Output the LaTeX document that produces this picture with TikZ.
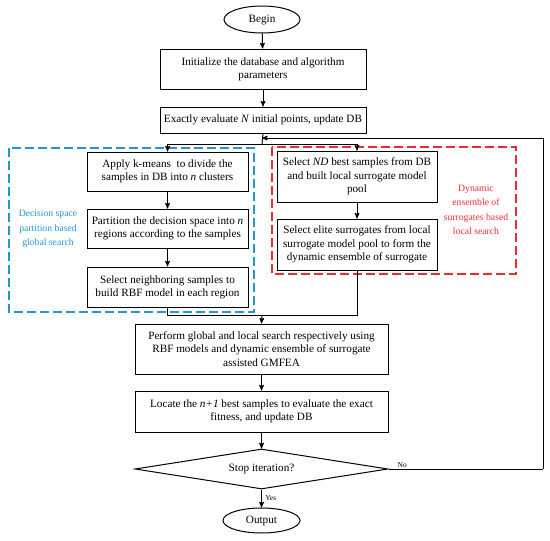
\documentclass[tikz,border=0pt]{standalone}
\usepackage{fontspec}
\setmainfont{Liberation Serif}
\usetikzlibrary{arrows,shapes}
\definecolor{dsblue}{RGB}{35,150,205}
\definecolor{dered}{RGB}{235,45,50}
\tikzstyle{stepbox}=[rectangle,draw,line width=1pt,align=center,inner sep=2pt,font=\fontsize{11.2}{13.3}\selectfont]
\tikzstyle{terminal}=[ellipse,draw,line width=1pt,inner sep=0pt,font=\fontsize{11.2}{13.3}\selectfont]
\tikzstyle{decide}=[diamond,draw,line width=1pt,aspect=6,inner sep=0pt,minimum width=253pt,minimum height=40pt,font=\fontsize{11.2}{13.3}\selectfont]
\tikzstyle{frame}=[line width=1.4pt,dash pattern=on 9pt off 4pt]
\tikzstyle{note}=[align=center,font=\fontsize{9.7}{14.5}\selectfont]

\begin{document}
\begin{tikzpicture}[->,>=stealth',x=1pt,y=1pt,line width=1pt]
\useasboundingbox (0,0) rectangle (550,-541);
% main column
\node [terminal,minimum width=76pt,minimum height=27pt] (begin) at (262,-19.5) {Begin};
\node [stepbox,minimum width=206pt,minimum height=40pt] (init) at (263,-69)
  {Initialize the database and algorithm\\parameters};
\node [stepbox,minimum width=206pt,minimum height=26pt] (exact) at (263,-120)
  {Exactly evaluate \textit{N} initial points, update DB};
% global search branch
\node [stepbox,minimum width=161pt,minimum height=39pt] (apply) at (167.5,-171.5)
  {Apply k-means\ \ to divide the\\samples in DB into \textit{n} clusters};
\node [stepbox,minimum width=161pt,minimum height=39pt] (part) at (167.5,-228.5)
  {Partition the decision space into \textit{n}\\regions according to the samples};
\node [stepbox,minimum width=161pt,minimum height=40pt] (neigh) at (167.5,-287)
  {Select neighboring samples to\\build RBF model in each region};
% local search branch
\node [stepbox,minimum width=160pt,minimum height=51pt] (nd) at (357,-176.5)
  {Select \textit{ND} best samples from DB\\and built local surrogate model\\pool};
\node [stepbox,minimum width=160pt,minimum height=51pt] (elite) at (357,-244.5)
  {Select elite surrogates from local\\surrogate model pool to form the\\dynamic ensemble of surrogate};
\node [stepbox,minimum width=253pt,minimum height=50pt] (perform) at (261.5,-349)
  {Perform global and local search respectively using\\RBF models and dynamic ensemble of surrogate\\assisted GMFEA};
\node [stepbox,minimum width=253pt,minimum height=41pt] (locate) at (261.5,-411.5)
  {Locate the \textit{n+1} best samples to evaluate the exact\\fitness, and update DB};
\node [decide] (stop) at (261.5,-469) {Stop iteration?};
\node [terminal,minimum width=77pt,minimum height=25pt] (output) at (261.5,-520.5) {Output};

% dashed frames and their labels
\draw [frame,dsblue] (9,-148) rectangle (254,-312);
\draw [frame,dered] (272,-147) rectangle (516,-274);
\node [note,text=dsblue] (dslabel) at (48,-229) {Decision space\\partition based\\global search};
\node [note,text=dered] (delabel) at (476,-210) {Dynamic\\ensemble of\\surrogates based\\local search};

\coordinate (split) at (262,-144);
\coordinate (back) at (262,-138);
\coordinate (merge) at (262,-315);
\coordinate (corner) at (543,-469);

\draw (begin) -- (init);
\draw (init) -- (exact);
\draw [-] (exact.south) -- (split);
\draw (split) -| (apply.north);
\draw (split) -| (nd.north);
\draw (apply) -- (part);
\draw (part) -- (neigh);
\draw (nd) -- (elite);
\draw [-] (neigh.south) |- (merge);
\draw [-] (elite.south) |- (merge);
\draw (merge) -- (perform.north);
\draw (perform) -- (locate);
\draw (locate) -- (stop);
\draw (stop.south) -- node [right,font=\fontsize{7.5}{9}\selectfont] {Yes} (output.north);
\draw [-] (stop.east) -- node [pos=0.05,above right,font=\fontsize{7.5}{9}\selectfont,inner sep=1pt] {No} (corner);
\draw (corner) |- (back);
\end{tikzpicture}
\end{document}
